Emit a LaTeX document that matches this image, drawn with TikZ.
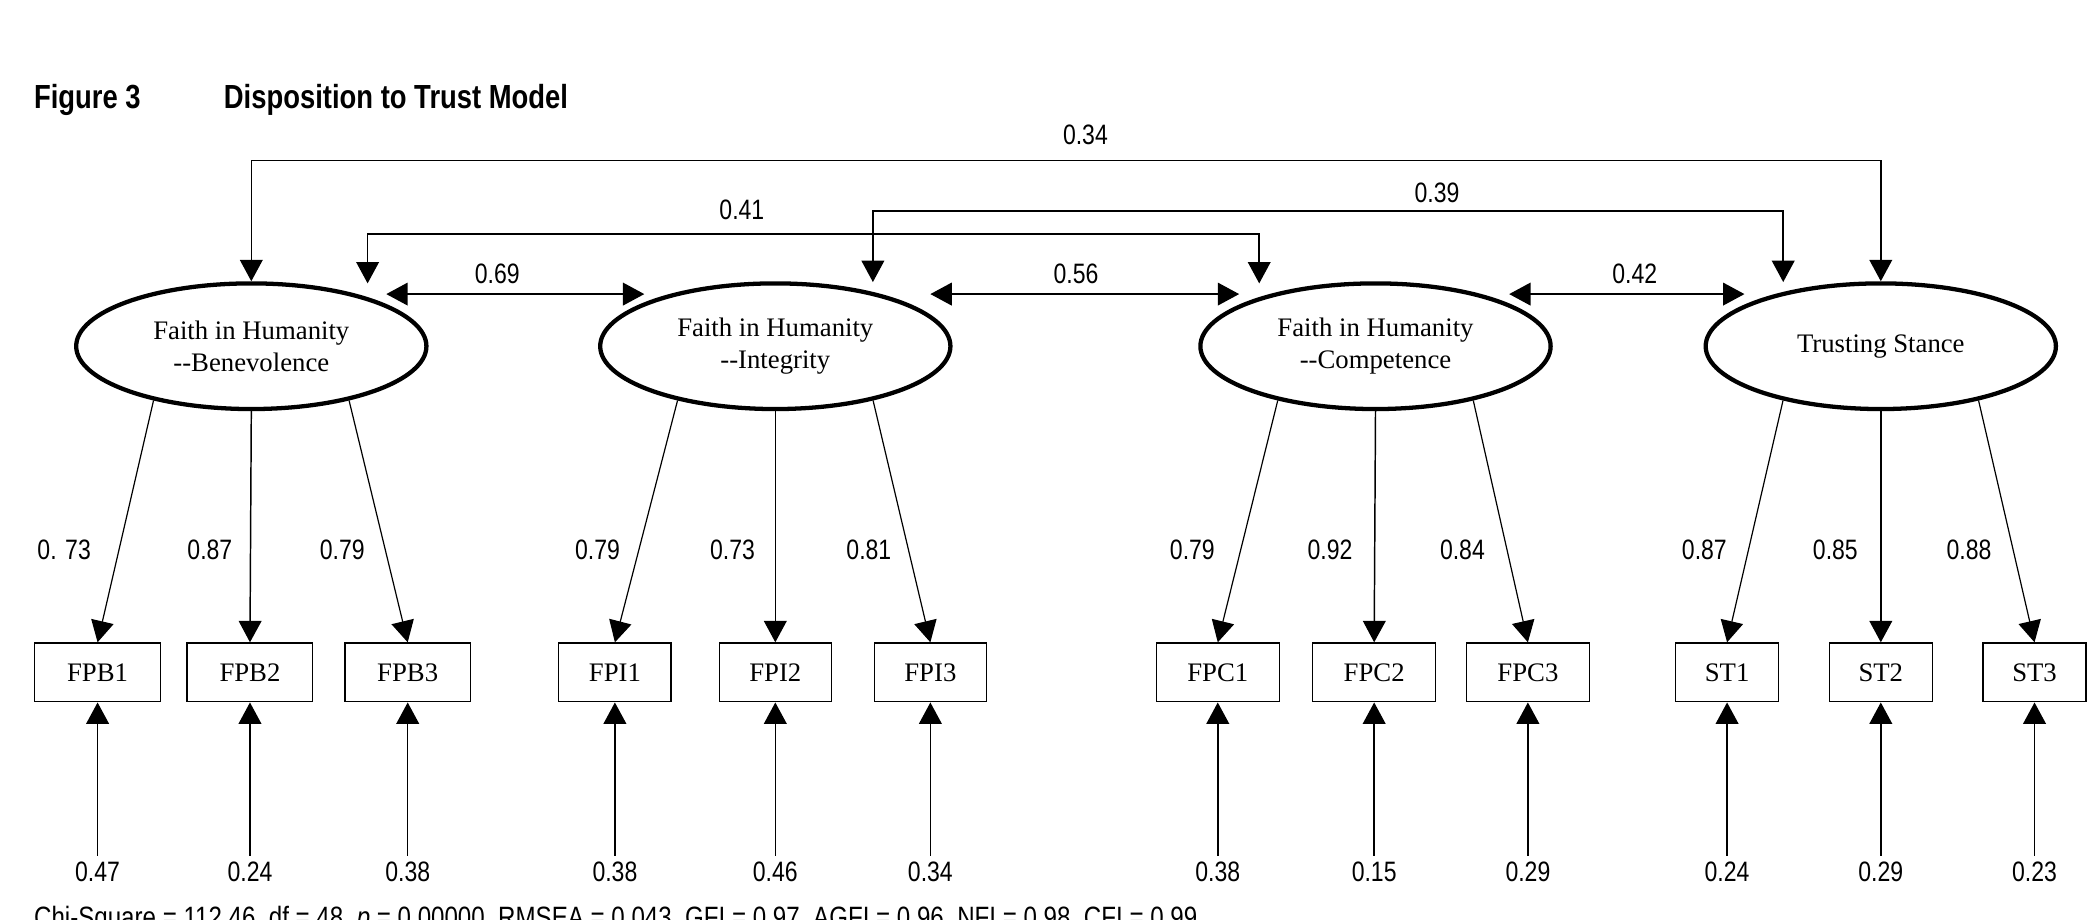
\documentclass[tikz,border=0pt]{standalone}
\usepackage{fontspec}
\setmainfont{Liberation Serif}
\newfontfamily\narrowsans[FakeStretch=0.82]{Liberation Sans}
\usetikzlibrary{shapes.geometric,arrows.meta,calc}
\begin{document}
\begin{tikzpicture}[x=1pt,y=-1pt,
  lat/.style={ellipse,draw,line width=3.2pt,minimum width=262pt,minimum height=94pt,inner sep=0pt,align=center,font=\fontsize{20}{24}\selectfont},
  obs/.style={draw,line width=1pt,minimum height=44pt,inner sep=0pt,font=\fontsize{20}{22}\selectfont},
  arr/.style={line width=1.1pt,-{Triangle[length=16pt,width=17pt]}},
  darr/.style={line width=1.1pt,{Triangle[length=16pt,width=17pt]}-{Triangle[length=16pt,width=17pt]}},
  num/.style={font=\narrowsans\fontsize{21}{23}\selectfont,inner sep=1pt}]
\useasboundingbox (0,0) rectangle (1568,688);
\clip (0,0) rectangle (1568,688);
\node[anchor=base west,font=\narrowsans\bfseries\fontsize{25}{28}\selectfont] (fig) at (22,81) {Figure 3};
\node[anchor=base west,font=\narrowsans\bfseries\fontsize{25}{28}\selectfont] (ttl) at (164,81) {Disposition to Trust Model};
% latent
\node[lat] (ben) at (188,259) {Faith in Humanity\\{-}{-}Benevolence};
\node[lat] (int) at (580,259) {Faith in Humanity\\{-}{-}Integrity};
\node[lat] (com) at (1029,259) {Faith in Humanity\\{-}{-}Competence};
\node[lat] (sta) at (1407,259) {Trusting Stance};
% observed
\foreach \n/\x/\w in {FPB1/73/94,FPB2/187/94,FPB3/305/94,FPI1/460/84,FPI2/580/84,FPI3/696/84,FPC1/911/92,FPC2/1028/92,FPC3/1143/92,ST1/1292/77,ST2/1407/77,ST3/1522/77}{
  \node[obs,minimum width=\w pt] (\n) at (\x,503) {\n};
  \coordinate (e\n) at (\x,640);
  \draw[arr] (e\n) -- (\n.south);
}
\foreach \n/\v in {FPB1/0.47,FPB2/0.24,FPB3/0.38,FPI1/0.38,FPI2/0.46,FPI3/0.34,FPC1/0.38,FPC2/0.15,FPC3/0.29,ST1/0.24,ST2/0.29,ST3/0.23}{
  \node[num] (l\n) at ($(e\n)+(0,12)$) {\v};
}
% loadings
\foreach \L/\a/\b/\c in {ben/FPB1/FPB2/FPB3,int/FPI1/FPI2/FPI3,com/FPC1/FPC2/FPC3,sta/ST1/ST2/ST3}{
  \draw[arr,line width=0.9pt] (\L.-151) -- (\a.north);
  \draw[arr] (\L.south) -- (\b.north);
  \draw[arr,line width=0.9pt] (\L.-29) -- (\c.north);
}
\foreach \t/\x in {0. 73/48,0.87/157,0.79/256,0.79/447,0.73/548,0.81/650,0.79/892,0.92/995,0.84/1094,0.87/1275,0.85/1373,0.88/1473}{
  \node[num] (ld\x) at (\x,411) {\t};
}
% covariances
\coordinate (c34a) at (188,120); \coordinate (c34b) at (1407,120);
\draw[darr] (ben.north) -- (c34a) -- (c34b) -- (sta.north);
\node[num] (n34) at (812,101) {0.34};
\coordinate (p41a) at (275,212); \coordinate (p41b) at (942,212);
\draw[darr] (p41a) -- (275,175) -- (942,175) -- (p41b);
\node[num] (n41) at (555,157) {0.41};
\coordinate (p39a) at (653,211); \coordinate (p39b) at (1334,211);
\draw[darr] (p39a) -- (653,158) -- (1334,158) -- (p39b);
\node[num] (n39) at (1075,144) {0.39};
\coordinate (h1a) at (289,220); \coordinate (h1b) at (482,220);
\draw[darr] (h1a) -- (h1b); \node[num] (n69) at (372,205) {0.69};
\coordinate (h2a) at (696,220); \coordinate (h2b) at (927,220);
\draw[darr] (h2a) -- (h2b); \node[num] (n56) at (805,205) {0.56};
\coordinate (h3a) at (1129,220); \coordinate (h3b) at (1305,220);
\draw[darr] (h3a) -- (h3b); \node[num] (n42) at (1223,205) {0.42};
\node[anchor=base west,font=\narrowsans\fontsize{22}{24}\selectfont] (fit) at (22,694) {Chi-Square = 112.46, df = 48, \textit{p} = 0.00000, RMSEA = 0.043, GFI = 0.97, AGFI = 0.96, NFI = 0.98, CFI = 0.99};
\end{tikzpicture}
\end{document}
